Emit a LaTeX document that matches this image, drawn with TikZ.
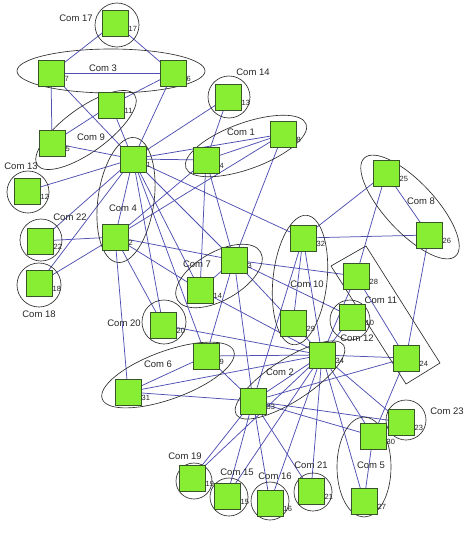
\documentclass[tikz,border=0pt]{standalone}
\usepackage{fontspec}
\setmainfont{Liberation Sans}
\usetikzlibrary{backgrounds}
\definecolor{sqfill}{RGB}{136,238,51}
\definecolor{sqdraw}{RGB}{55,85,40}
\definecolor{edgec}{RGB}{80,80,180}
\definecolor{ringc}{RGB}{45,45,45}
\newcommand\sqnode[3]{\node[sq] (n#1) at (#2,#3) {}; \node[numlbl] (t#1) at (#2+13.5,#3+6) {#1};}
\begin{document}
\begin{tikzpicture}[x=1pt,y=-1pt,
 sq/.style={draw=sqdraw,fill=sqfill,line width=0.8pt,minimum size=26pt,inner sep=0pt,outer sep=0pt},
 numlbl/.style={font=\fontsize{7.5}{8}\selectfont,inner sep=0pt,anchor=west,text=black!85},
 comlbl/.style={font=\fontsize{9.5}{11}\selectfont,inner sep=0pt,text=black!85},
 link/.style={draw=edgec,line width=0.75pt},
 ring/.style={draw=ringc,line width=0.65pt}]
\useasboundingbox (0,0) rectangle (474,533);
% communities
\draw[ring] (111,71) ellipse [x radius=94pt, y radius=22pt];
\draw[ring, rotate around={36:(86,130)}] (86,130) ellipse [x radius=60pt, y radius=22pt];
\draw[ring, rotate around={82:(126,200)}] (126,200) ellipse [x radius=63pt, y radius=28pt];
\draw[ring, rotate around={20:(246,146)}] (246,146) ellipse [x radius=64pt, y radius=23pt];
\draw[ring, rotate around={30:(219,276)}] (219,276) ellipse [x radius=48pt, y radius=24pt];
\draw[ring, rotate around={84:(300,280)}] (300,280) ellipse [x radius=65pt, y radius=27pt];
\draw[ring, rotate around={-47:(410,207)}] (410,207) ellipse [x radius=67pt, y radius=25pt];
\draw[ring, rotate around={20:(168,375)}] (168,375) ellipse [x radius=70pt, y radius=24pt];
\draw[ring, rotate around={33:(290,380)}] (290,380) ellipse [x radius=64pt, y radius=21pt];
\draw[ring] (364,467) ellipse [x radius=27pt, y radius=50pt];
\draw[ring] (366,246) -- (440,363) -- (406,384) -- (331,266) -- cycle;
\draw[ring] (117,25) circle [radius=22pt];
\draw[ring] (229,97) circle [radius=21pt];
\draw[ring] (28,192) circle [radius=21pt];
\draw[ring] (41,240) circle [radius=21pt];
\draw[ring] (39,285) circle [radius=22pt];
\draw[ring] (164,322) circle [radius=22pt];
\draw[ring] (350,320) circle [radius=20pt];
\draw[ring] (406,420) circle [radius=20pt];
\draw[ring] (313,492) circle [radius=19pt];
\draw[ring] (270,501) circle [radius=19pt];
\draw[ring] (229,497) circle [radius=19pt];
\draw[ring] (194,481) circle [radius=18pt];
% nodes
\sqnode{1}{133}{159}
\sqnode{2}{115}{237}
\sqnode{3}{234}{260}
\sqnode{4}{206}{160}
\sqnode{5}{52}{143}
\sqnode{6}{173}{73}
\sqnode{7}{51}{73}
\sqnode{8}{283}{134}
\sqnode{9}{206}{356}
\sqnode{10}{352}{317}
\sqnode{11}{111}{105}
\sqnode{12}{27}{191}
\sqnode{13}{228}{97}
\sqnode{14}{200}{290}
\sqnode{15}{227}{496}
\sqnode{16}{270}{503}
\sqnode{17}{115}{23}
\sqnode{18}{39}{283}
\sqnode{19}{192}{478}
\sqnode{20}{163}{325}
\sqnode{21}{311}{491}
\sqnode{22}{40}{241}
\sqnode{23}{401}{422}
\sqnode{24}{406}{358}
\sqnode{25}{386}{173}
\sqnode{26}{429}{235}
\sqnode{27}{364}{501}
\sqnode{28}{356}{276}
\sqnode{29}{293}{323}
\sqnode{30}{373}{436}
\sqnode{31}{128}{392}
\sqnode{32}{303}{238}
\sqnode{33}{253}{401}
\sqnode{34}{322}{355}
% edges
\begin{scope}[on background layer]
\fill[white] (0,0) rectangle (474,533);
\foreach \a/\b in {1/2,1/3,1/4,1/5,1/6,1/7,1/8,1/9,1/11,1/12,1/13,1/14,1/18,1/20,1/22,1/32,
 2/3,2/4,2/8,2/14,2/18,2/20,2/22,2/31,
 3/4,3/8,3/9,3/10,3/14,3/28,3/29,3/33,
 4/8,4/13,4/14,5/7,5/11,6/7,6/11,6/17,7/17,
 9/31,9/33,9/34,10/34,14/34,15/33,15/34,16/33,16/34,19/33,19/34,20/34,21/33,21/34,23/33,23/34,
 24/26,24/28,24/30,24/33,24/34,25/26,25/28,25/32,26/32,27/30,27/34,28/34,29/32,29/34,
 30/33,30/34,31/33,31/34,32/33,32/34,33/34}
 \draw[link] (n\a.center) -- (n\b.center);
\end{scope}
% community labels
\node[comlbl] (c17) at (76,18) {Com 17};
\node[comlbl] (c3) at (103,68) {Com 3};
\node[comlbl] (c14) at (253,72) {Com 14};
\node[comlbl] (c9) at (91,137) {Com 9};
\node[comlbl] (c1) at (241,132) {Com 1};
\node[comlbl] (c13) at (21,166) {Com 13};
\node[comlbl] (c22) at (70,217) {Com 22};
\node[comlbl] (c4) at (123,208) {Com 4};
\node[comlbl] (c18) at (39,314) {Com 18};
\node[comlbl] (c7) at (197,264) {Com 7};
\node[comlbl] (c20) at (124,323) {Com 20};
\node[comlbl] (c10) at (307,284) {Com 10};
\node[comlbl] (c8) at (421,201) {Com 8};
\node[comlbl] (c11) at (381,300) {Com 11};
\node[comlbl] (c12) at (357,338) {Com 12};
\node[comlbl] (c6) at (158,364) {Com 6};
\node[comlbl] (c2) at (280,372) {Com 2};
\node[comlbl] (c23) at (447,411) {Com 23};
\node[comlbl] (c5) at (371,465) {Com 5};
\node[comlbl] (c21) at (311,465) {Com 21};
\node[comlbl] (c16) at (275,476) {Com 16};
\node[comlbl] (c15) at (237,472) {Com 15};
\node[comlbl] (c19) at (185,456) {Com 19};
\end{tikzpicture}
\end{document}
